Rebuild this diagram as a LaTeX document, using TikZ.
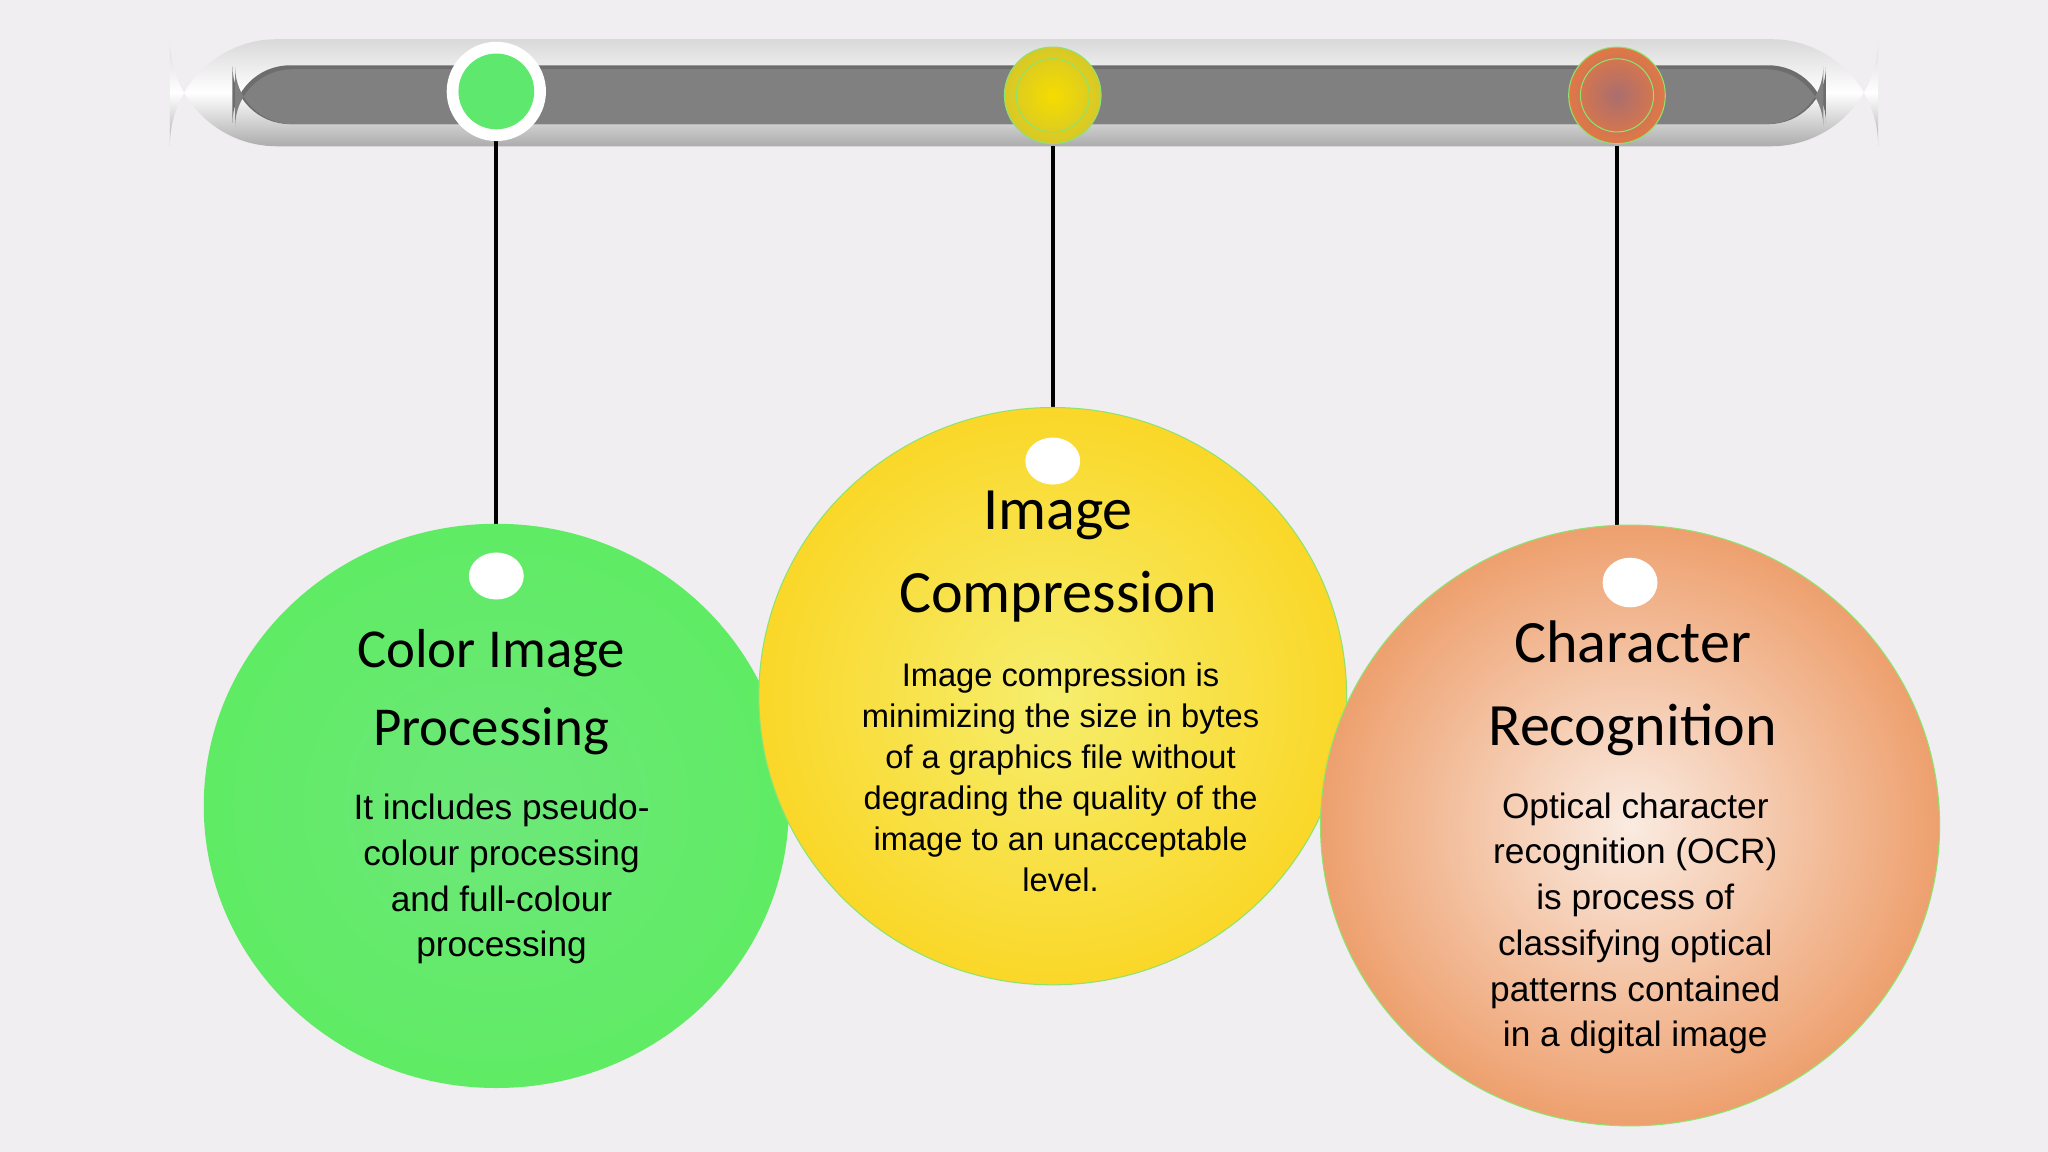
\documentclass[tikz,border=0pt]{standalone}
\usepackage{fontspec}
\setmainfont{Liberation Sans}
\newfontfamily\titlefont{Carlito}
\definecolor{bg}{RGB}{240,238,240}
\definecolor{track}{RGB}{128,128,128}
\definecolor{gIn}{RGB}{110,232,122}
\definecolor{gOut}{RGB}{95,235,100}
\definecolor{yIn}{RGB}{246,238,110}
\definecolor{yOut}{RGB}{250,215,40}
\definecolor{oIn}{RGB}{250,235,225}
\definecolor{oOut}{RGB}{238,160,110}
\definecolor{edge}{RGB}{140,228,110}
\definecolor{gMark}{RGB}{95,232,110}
\definecolor{yMIn}{RGB}{245,220,0}
\definecolor{yMOut}{RGB}{215,200,40}
\definecolor{oMIn}{RGB}{170,110,110}
\definecolor{oMOut}{RGB}{225,120,70}
\begin{document}
\begin{tikzpicture}[x=0.5pt,y=-0.5pt,
  hole/.style={fill=white,draw=none},
  hang/.style={line width=1.6pt,black},
  ttl/.style={font=\titlefont\fontsize{21}{30}\selectfont,align=center},
  body/.style={font=\fontsize{13.5}{17.5}\selectfont,align=center}]
\fill[bg] (0,0) rectangle (1568,882);
\useasboundingbox (0,0) rectangle (1568,882);
% bar
\shade[top color=gray!30,bottom color=gray!65,middle color=white,rounded corners=41] (130,30) rectangle (1438,112);
\fill[track!85!black,rounded corners=22] (178,50) rectangle (1398,95);
\fill[track,rounded corners=22] (180,53) rectangle (1396,95);
% lines
\draw[hang] (380,108) -- (380,425);
\draw[hang] (806,112) -- (806,338);
\draw[hang] (1238,112) -- (1238,415);
% circles
\shade[inner color=gIn,outer color=gOut] (380,617) ellipse [x radius=224,y radius=216];
\shade[inner color=yIn,outer color=yOut,draw=edge] (806,533) ellipse [x radius=225,y radius=221];
\shade[inner color=oIn,outer color=oOut,draw=edge] (1248,632) ellipse [x radius=237,y radius=230];
% holes
\fill[hole] (380,441) ellipse [x radius=21,y radius=18];
\fill[hole] (806,353) ellipse [x radius=21,y radius=18];
\fill[hole] (1248,446) ellipse [x radius=21,y radius=19];
% markers
\fill[white] (380,70) circle (38);
\fill[gMark] (380,70) circle (29);
\shade[inner color=yMIn,outer color=yMOut,draw=edge] (806,73) circle (37);
\draw[edge] (806,73) circle (28);
\shade[inner color=oMIn,outer color=oMOut,draw=edge] (1238,73) circle (37);
\draw[edge] (1238,73) circle (28);
% texts
\node[ttl] (t1) at (376,530) {Color Image\\Processing};
\node[body] (b1) at (384,673) {It includes pseudo-\\colour processing\\and full-colour\\processing};
\node[ttl,font=\titlefont\fontsize{23}{32}\selectfont] (t2) at (810,426) {Image\\Compression};
\node[body,font=\fontsize{12.5}{15.7}\selectfont] (b2) at (812,595) {Image compression is\\minimizing the size in bytes\\of a graphics file without\\degrading the quality of the\\image to an unacceptable\\level.};
\node[ttl,font=\titlefont\fontsize{23}{32}\selectfont] (t3) at (1250,527) {Character\\Recognition};
\node[body] (b3) at (1252,707) {Optical character\\recognition (OCR)\\is process of\\classifying optical\\patterns contained\\in a digital image};
\end{tikzpicture}
\end{document}
